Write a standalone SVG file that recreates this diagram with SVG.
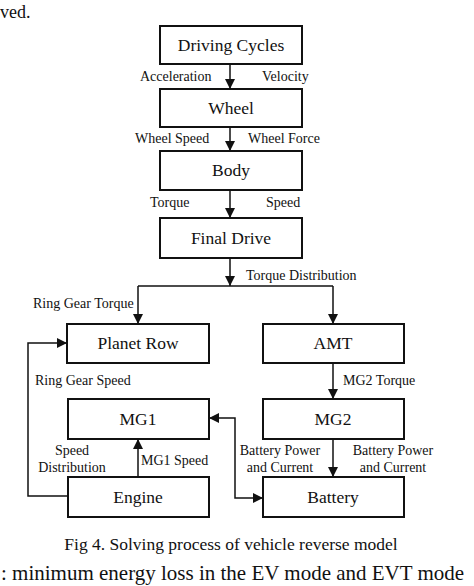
<svg xmlns="http://www.w3.org/2000/svg" width="474" height="586" viewBox="0 0 474 586">
<defs>
<marker id="ah" viewBox="0 0 10 10" refX="10" refY="5" markerWidth="10" markerHeight="10" markerUnits="userSpaceOnUse" orient="auto">
<path d="M0,0 L10,5 L0,10 z" fill="#111"/>
</marker>
</defs>
<style>
text{font-family:"Liberation Serif","Times New Roman",serif;fill:#111}
.box{fill:#fff;stroke:#111;stroke-width:2}
.nt{font-size:17.5px;text-anchor:middle}
.lb{font-size:14px}
.ln{fill:none;stroke:#111;stroke-width:1.5}
.cap{font-size:17.5px}
</style>
<rect width="474" height="586" fill="#fff"/>
<text class="cap" x="0" y="18" style="font-size:18px">ved.</text>
<g id="n-driving"><rect class="box" x="160" y="26" width="142" height="38"/><text class="nt" x="231" y="51">Driving Cycles</text></g>
<g id="n-wheel"><rect class="box" x="160" y="89" width="142" height="38"/><text class="nt" x="231" y="114">Wheel</text></g>
<g id="n-body"><rect class="box" x="160" y="151" width="142" height="39"/><text class="nt" x="231" y="176">Body</text></g>
<g id="n-final"><rect class="box" x="160" y="218" width="142" height="40"/><text class="nt" x="231" y="244">Final Drive</text></g>
<g id="n-planet"><rect class="box" x="67" y="324" width="142" height="39"/><text class="nt" x="138" y="349">Planet Row</text></g>
<g id="n-amt"><rect class="box" x="263" y="324" width="141" height="39"/><text class="nt" x="333" y="349">AMT</text></g>
<g id="n-mg1"><rect class="box" x="68" y="399" width="141" height="40"/><text class="nt" x="138" y="425">MG1</text></g>
<g id="n-mg2"><rect class="box" x="263" y="399" width="141" height="40"/><text class="nt" x="333" y="425">MG2</text></g>
<g id="n-engine"><rect class="box" x="68" y="477" width="141" height="40"/><text class="nt" x="138" y="503">Engine</text></g>
<g id="n-battery"><rect class="box" x="263" y="477" width="141" height="40"/><text class="nt" x="333" y="503">Battery</text></g>
<g id="connectors">
<line class="ln" x1="230" y1="64" x2="230" y2="89" marker-end="url(#ah)"/>
<line class="ln" x1="230" y1="127" x2="230" y2="151" marker-end="url(#ah)"/>
<line class="ln" x1="230" y1="190" x2="230" y2="218" marker-end="url(#ah)"/>
<line class="ln" x1="230" y1="258" x2="230" y2="286" marker-end="url(#ah)"/>
<line class="ln" x1="138" y1="286" x2="333" y2="286"/>
<line class="ln" x1="138" y1="286" x2="138" y2="324" marker-end="url(#ah)"/>
<line class="ln" x1="333" y1="286" x2="333" y2="324" marker-end="url(#ah)"/>
<line class="ln" x1="333" y1="363" x2="333" y2="399" marker-end="url(#ah)"/>
<line class="ln" x1="333" y1="439" x2="333" y2="477" marker-end="url(#ah)"/>
<line class="ln" x1="138" y1="477" x2="138" y2="439" marker-end="url(#ah)"/>
<polyline class="ln" points="68,496 28,496 28,343 67,343" marker-end="url(#ah)"/>
<polyline class="ln" points="235,458 235,418 209,418" marker-end="url(#ah)"/>
<polyline class="ln" points="235,458 235,498 263,498" marker-end="url(#ah)"/>
</g>
<g id="labels">
<text class="lb" x="140" y="81">Acceleration</text>
<text class="lb" x="262" y="81">Velocity</text>
<text class="lb" x="135" y="143">Wheel Speed</text>
<text class="lb" x="248" y="143">Wheel Force</text>
<text class="lb" x="150" y="207">Torque</text>
<text class="lb" x="266" y="207">Speed</text>
<text class="lb" x="246" y="280">Torque Distribution</text>
<text class="lb" x="33" y="308">Ring Gear Torque</text>
<text class="lb" x="35" y="385">Ring Gear Speed</text>
<text class="lb" x="343" y="385">MG2 Torque</text>
<text class="lb" x="72" y="455" text-anchor="middle">Speed</text>
<text class="lb" x="72" y="472" text-anchor="middle">Distribution</text>
<text class="lb" x="141" y="465">MG1 Speed</text>
<text class="lb" x="280" y="455" text-anchor="middle">Battery Power</text>
<text class="lb" x="280" y="472" text-anchor="middle">and Current</text>
<text class="lb" x="393" y="455" text-anchor="middle">Battery Power</text>
<text class="lb" x="393" y="472" text-anchor="middle">and Current</text>
</g>
<text class="cap" x="231" y="550" text-anchor="middle">Fig 4. Solving process of vehicle reverse model</text>
<text class="cap" x="1" y="580" style="font-size:21px">: minimum energy loss in the EV mode and EVT mode</text>
</svg>
